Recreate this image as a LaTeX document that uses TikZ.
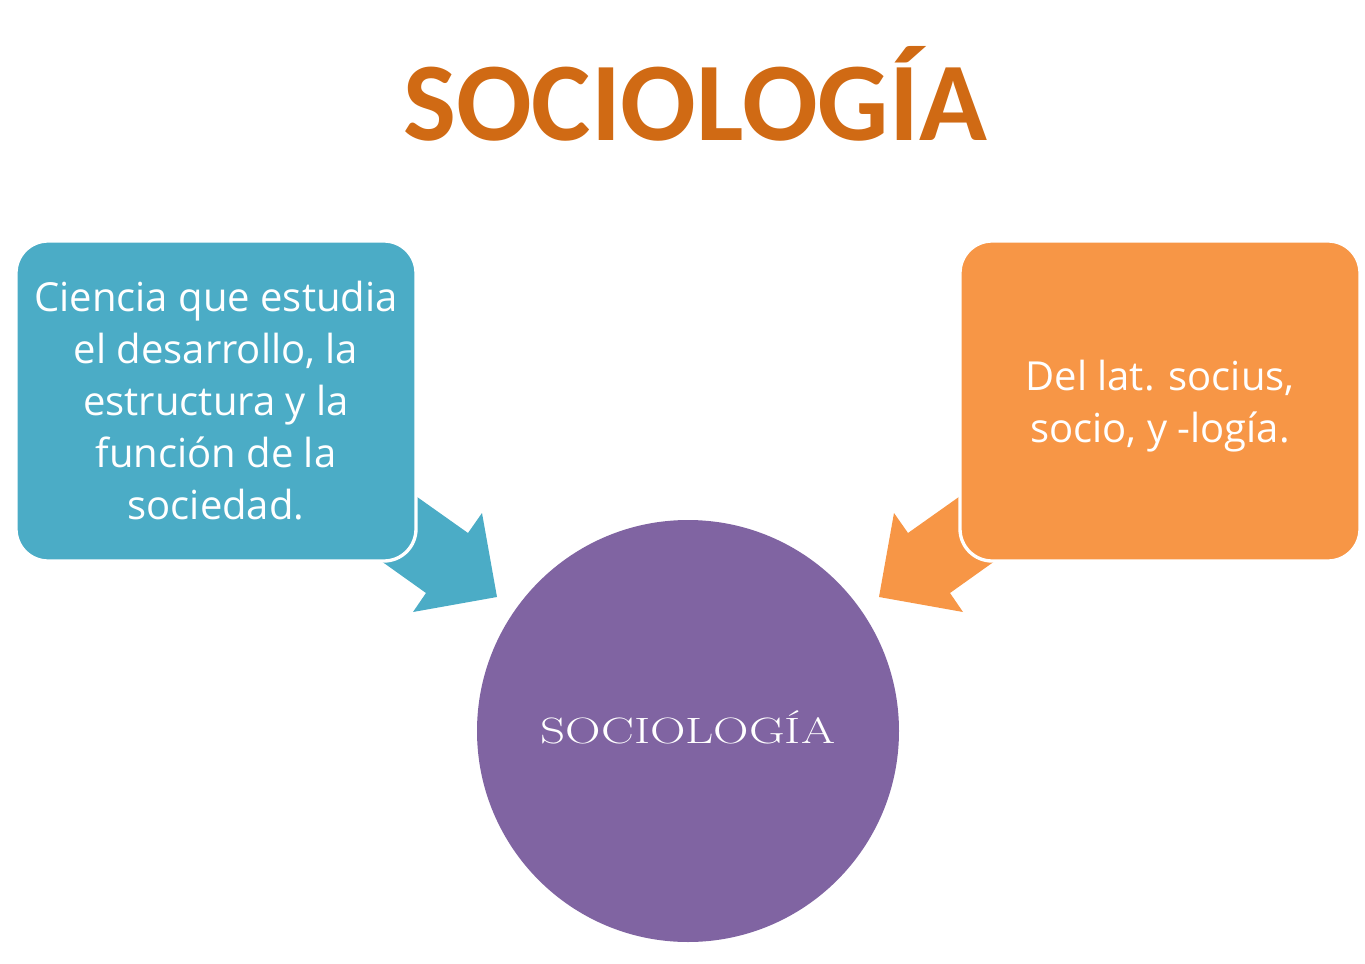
\documentclass[tikz,border=0pt]{standalone}
\usepackage{fontspec}
\newfontfamily\titlefont{Carlito}
\newfontfamily\boxfont{Open Sans}
\newfontfamily\circfont[FakeStretch=1.34]{Latin Modern Roman}
\definecolor{blueA}{HTML}{4BACC6}
\definecolor{orangeA}{HTML}{F79646}
\definecolor{purpleA}{HTML}{8064A2}
\definecolor{titleC}{HTML}{D06A14}
\tikzset{
  infobox/.style={rounded corners=24pt, draw=white, line width=2.5pt,
    minimum width=300pt, minimum height=240pt, align=center,
    text=white, font=\boxfont\fontsize{30}{39}\selectfont, inner sep=0pt},
}
\begin{document}
\begin{tikzpicture}[x=0.75pt,y=-0.75pt]
\useasboundingbox (0,0) rectangle (1365,964);
% arrows behind the boxes
\fill[blueA] (372,465) -- (468,533) -- (482,513) -- (497,597) -- (413,612) -- (426,593) -- (339,531) -- cycle;
\fill[orangeA] (1004,465) -- (908,533) -- (894,513) -- (879,597) -- (963,612) -- (950,593) -- (1037,531) -- cycle;
% title
\node[anchor=base, inner sep=0pt, text=titleC, font=\titlefont\bfseries\fontsize{84}{84}\selectfont] (title) at (695,140) {SOCIOLOGÍA};
% boxes
\node[infobox, fill=blueA] (def) at (216,401) {Ciencia que estudia\\el desarrollo, la\\estructura y la\\función de la\\sociedad.};
\node[infobox, fill=orangeA, text depth=0pt] (ety) at (1160,401) {Del lat. socius,\\socio, y -logía.};
% circle
\node[circle, fill=purpleA, minimum size=316.5pt, inner sep=0pt, text=white,
  text height=18.8pt, text depth=0pt,
  font=\circfont\fontsize{27.5}{30}\selectfont] (soc) at (688,731) {SOCIOLOGÍA};
\end{tikzpicture}
\end{document}
